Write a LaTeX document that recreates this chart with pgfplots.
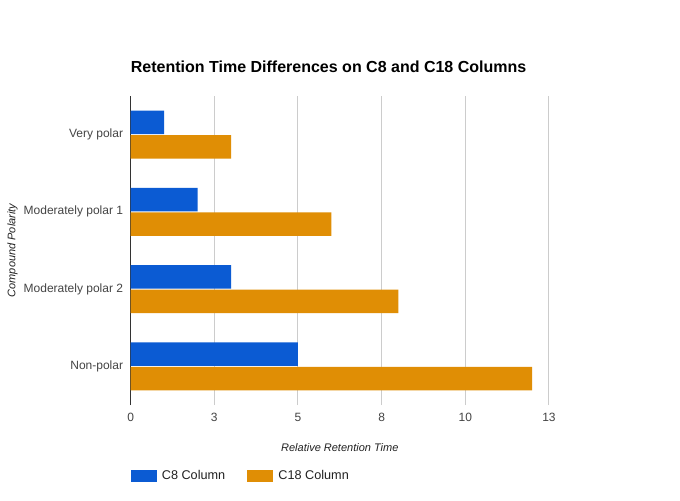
\documentclass[border=0pt]{standalone}
\usepackage{fontspec}
\setmainfont{Liberation Sans}
\usepackage{pgfplots}
\pgfplotsset{compat=1.18}
\definecolor{cviii}{RGB}{11,91,211}
\definecolor{cxviii}{RGB}{224,142,5}
\definecolor{gridgray}{RGB}{204,204,204}
\definecolor{ticktext}{RGB}{68,68,68}
\definecolor{labeltext}{RGB}{34,34,34}

\begin{document}
\begin{tikzpicture}
% page area: 680 x 500 px at 0.75pt per px
\path[fill=white, use as bounding box] (0,0) rectangle (510pt,375pt);
\begin{axis}[
  at={(98pt,71.25pt)}, anchor=south west,
  scale only axis, width=313.7pt, height=231.75pt,
  xbar, bar width=17.5pt,
  xmin=0, xmax=12.5, ymin=-0.5, ymax=3.5,
  xtick={0,2.5,5,7.5,10,12.5}, xticklabels={0,3,5,8,10,13},
  ytick={0,1,2,3},
  yticklabels={Non-polar,Moderately polar 2,Moderately polar 1,Very polar},
  major tick length=0pt,
  axis line style={draw=none},
  xmajorgrids, grid style={gridgray, line width=0.75pt},
  extra x ticks={0}, extra x tick labels={},
  extra x tick style={grid style={draw=black!80, line width=0.75pt}},
  ticklabel style={font=\fontsize{9pt}{11pt}\selectfont, text=ticktext},
  xticklabel style={anchor=base, inner sep=0pt, yshift=-12.2pt},
  yticklabel style={anchor=east, inner sep=0pt, xshift=-5.5pt},
  every axis title shift=0pt,
  title={Retention Time Differences on C8 and C18 Columns},
  title style={at={(0,1)}, anchor=base west, yshift=17.8pt, inner sep=0pt,
    font=\bfseries\fontsize{12pt}{14pt}\selectfont, text=black},
  xlabel={Relative Retention Time},
  xlabel style={at={(0.5,0)}, anchor=base, yshift=-34.5pt, inner sep=0pt,
    font=\itshape\fontsize{8.25pt}{10pt}\selectfont, text=labeltext},
  ylabel={Compound Polarity},
  % the label is turned by 90 degrees, so yshift moves it to the left
  ylabel style={at={(0,0.5)}, anchor=base, yshift=86.5pt, inner sep=0pt,
    font=\itshape\fontsize{8.25pt}{10pt}\selectfont, text=labeltext},
  legend columns=2,
  legend style={at={(0,-0.2298)}, anchor=west, draw=none, fill=none,
    inner sep=0pt, nodes={inner sep=0pt},
    font=\fontsize{9.5pt}{11pt}\selectfont, text=labeltext,
    /tikz/every odd column/.style={column sep=3.9pt},
    /tikz/every even column/.style={column sep=16.7pt}},
  legend image code/.code={\fill[#1] (0pt,-4.8pt) rectangle (19.3pt,4.8pt);},
]
\addplot[fill=cviii, draw=none, bar shift=9.2pt]
  coordinates {(1,3) (2,2) (3,1) (5,0)};
\addplot[fill=cxviii, draw=none, bar shift=-9.2pt]
  coordinates {(3,3) (6,2) (8,1) (12,0)};
\legend{C8 Column, C18 Column}
\end{axis}
\end{tikzpicture}
\end{document}
